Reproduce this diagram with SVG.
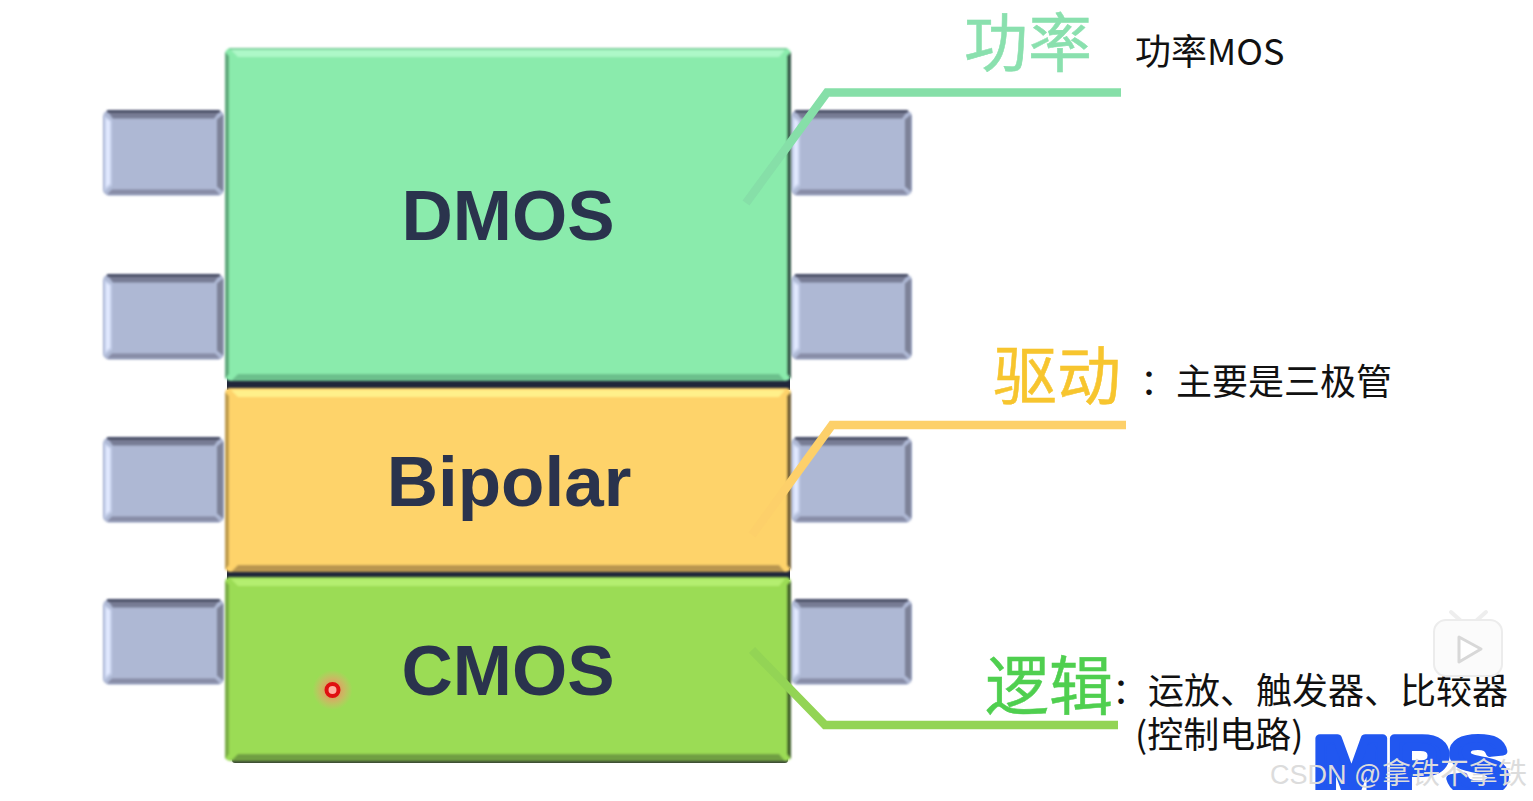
<svg xmlns="http://www.w3.org/2000/svg" xmlns:xlink="http://www.w3.org/1999/xlink" width="1533" height="801" viewBox="0 0 1533 801">
<style>
.layer{font-family:"Liberation Sans",Arial,sans-serif;font-weight:700;font-size:71px;fill:#2a334d;text-anchor:middle}
.big{font-family:"Noto Sans CJK SC",sans-serif;font-size:64px;stroke-width:.5}
.note{font-family:"Noto Sans CJK SC","Liberation Sans",sans-serif;font-size:36px;fill:#111}
.conn{fill:none;stroke-width:8.5;stroke-linejoin:miter}
</style>
<defs>
<radialGradient id="glow"><stop offset="0" stop-color="#ff5a4a" stop-opacity=".75"/><stop offset=".55" stop-color="#ff8f70" stop-opacity=".5"/><stop offset="1" stop-color="#ff9f80" stop-opacity="0"/></radialGradient>
<filter id="soft" x="-5%" y="-5%" width="110%" height="110%"><feGaussianBlur stdDeviation="0.9"/></filter>
<clipPath id="logoclip"><rect x="1300" y="725" width="220" height="65"/></clipPath>
<g id="pin">
<rect x="0" y="0" width="121" height="85" rx="6" fill="#aeb8d4" filter="url(#soft)"/>
<g filter="url(#soft)">
<polygon points="4,0 117,0 111,8 10,8" fill="#777c94"/>
<rect x="4" y="0" width="113" height="2" fill="#33364a"/>
<polygon points="1,5 9,10 9,75 1,81" fill="#c3cee9"/>
<polygon points="3,8 7,11 7,73 3,77" fill="#e2e9ff"/>
<polygon points="120,4 114,9 114,76 120,81" fill="#7d8298"/>
<polygon points="4,84 117,84 112,79 9,79" fill="#878ca6"/>
</g>
</g>
</defs>
<rect width="1533" height="801" fill="#fff"/>
<g id="pin-l1"><use xlink:href="#pin" href="#pin" x="103" y="110.500"/></g>
<g id="pin-l2"><use xlink:href="#pin" href="#pin" x="103" y="274.500"/></g>
<g id="pin-l3"><use xlink:href="#pin" href="#pin" x="103" y="437.500"/></g>
<g id="pin-l4"><use xlink:href="#pin" href="#pin" x="103" y="599.500"/></g>
<g id="pin-r1"><use xlink:href="#pin" href="#pin" x="791" y="110.500"/></g>
<g id="pin-r2"><use xlink:href="#pin" href="#pin" x="791" y="274.500"/></g>
<g id="pin-r3"><use xlink:href="#pin" href="#pin" x="791" y="437.500"/></g>
<g id="pin-r4"><use xlink:href="#pin" href="#pin" x="791" y="599.500"/></g>
<rect x="227" y="376" width="563" height="14" fill="#20263a"/>
<rect x="227" y="568" width="563" height="12" fill="#20263a"/>
<rect x="232" y="755" width="556" height="8" rx="3" fill="#3b4a33"/>
<g id="dmos">
<g filter="url(#soft)">
<rect x="225" y="48" width="566" height="333" rx="6" fill="#8aebac"/>
<polygon points="231,50 785,50 779,57 238,57" fill="#adf8c8"/>
<rect x="229" y="48" width="558" height="1.500" fill="#74c794"/>
<polygon points="225,52 229,56 229,374 225,379" fill="#5ea97b"/>
<polygon points="791,52 787,56 787,374 791,379" fill="#34584a"/>
<polygon points="231,381 785,381 779,374 238,374" fill="#6cc08c"/>
</g>
<text class="layer" x="508" y="240">DMOS</text>
</g>
<g id="bipolar">
<g filter="url(#soft)">
<rect x="225" y="388" width="566" height="184" rx="5" fill="#fed36b"/>
<polygon points="231,390 785,390 779,397 238,397" fill="#fff08a"/>
<polygon points="225,392 229,396 229,565 225,570" fill="#c09c4e"/>
<polygon points="791,392 787,396 787,565 791,570" fill="#6f5d36"/>
<polygon points="231,572 785,572 779,565 238,565" fill="#b99650"/>
</g>
<text class="layer" x="509" y="506">Bipolar</text>
</g>
<g id="cmos">
<g filter="url(#soft)">
<rect x="225" y="577" width="566" height="184" rx="5" fill="#9bdc55"/>
<polygon points="231,579 785,579 779,586 238,586" fill="#b4ee70"/>
<polygon points="225,581 229,585 229,754 225,759" fill="#79ad44"/>
<polygon points="791,581 787,585 787,754 791,759" fill="#415f2a"/>
<polygon points="231,761 785,761 779,754 238,754" fill="#6f9f42"/>
</g>
<text class="layer" x="508" y="695">CMOS</text>
</g>
<g id="pointer">
<circle cx="332.500" cy="690" r="20" fill="url(#glow)"/>
<circle cx="332.500" cy="690" r="6" fill="#ffb0a0" stroke="#e01010" stroke-width="4"/>
</g>
<g id="connectors">
<polyline class="conn" points="746,203 827,92.500 1121,92.500" stroke="#86dfa8"/>
<polyline class="conn" points="752,535 832,425 1126,425" stroke="#fdd06a"/>
<polyline class="conn" points="752,650 825,725 1118,725" stroke="#93d455"/>
</g>
<g id="label-power">
<text class="big" x="964" y="66" fill="#8ae0ae" stroke="#8ae0ae">功率</text>
<text class="note" x="1135" y="65">功率MOS</text>
</g>
<g id="label-drive">
<text class="big" x="993" y="399" fill="#f7c52e" stroke="#f7c52e">驱动</text>
<text class="note" x="1140" y="395">：主要是三极管</text>
</g>
<g id="label-logic">
<text class="big" x="985" y="709" fill="#4fcf4f" stroke="#4fcf4f">逻辑</text>
<text class="note" x="1112" y="704">：运放、触发器、比较器</text>
<text class="note" x="1135" y="748">(控制电路)</text>
</g>
<g id="logo" clip-path="url(#logoclip)">
<text x="1411" y="792" text-anchor="middle" textLength="194" lengthAdjust="spacingAndGlyphs" font-family="Liberation Sans, sans-serif" font-weight="700" font-size="78" fill="#2157f0" stroke="#2157f0" stroke-width="8" stroke-linejoin="round">MPS</text>
</g>
<g id="player-icon">
<path d="M1451 612L1461 621M1486 612L1476 621" stroke="#eeeeee" stroke-width="4" stroke-linecap="round"/>
<rect x="1434" y="620" width="68" height="56" rx="12" fill="#fbfbfb" stroke="#ececec" stroke-width="2"/>
<path d="M1459 637L1481 649L1459 662Z" fill="#fff" stroke="#d8d8d8" stroke-width="3" stroke-linejoin="round"/>
</g>
<g id="watermark" fill="#dcdcdc">
<text x="1270" y="784" font-family="Liberation Sans,'Noto Sans CJK SC',sans-serif" font-size="27">CSDN @</text>
<text x="1382" y="784" font-family="'Noto Sans CJK SC',sans-serif" font-size="29">拿铁不拿铁</text>
</g>
</svg>
